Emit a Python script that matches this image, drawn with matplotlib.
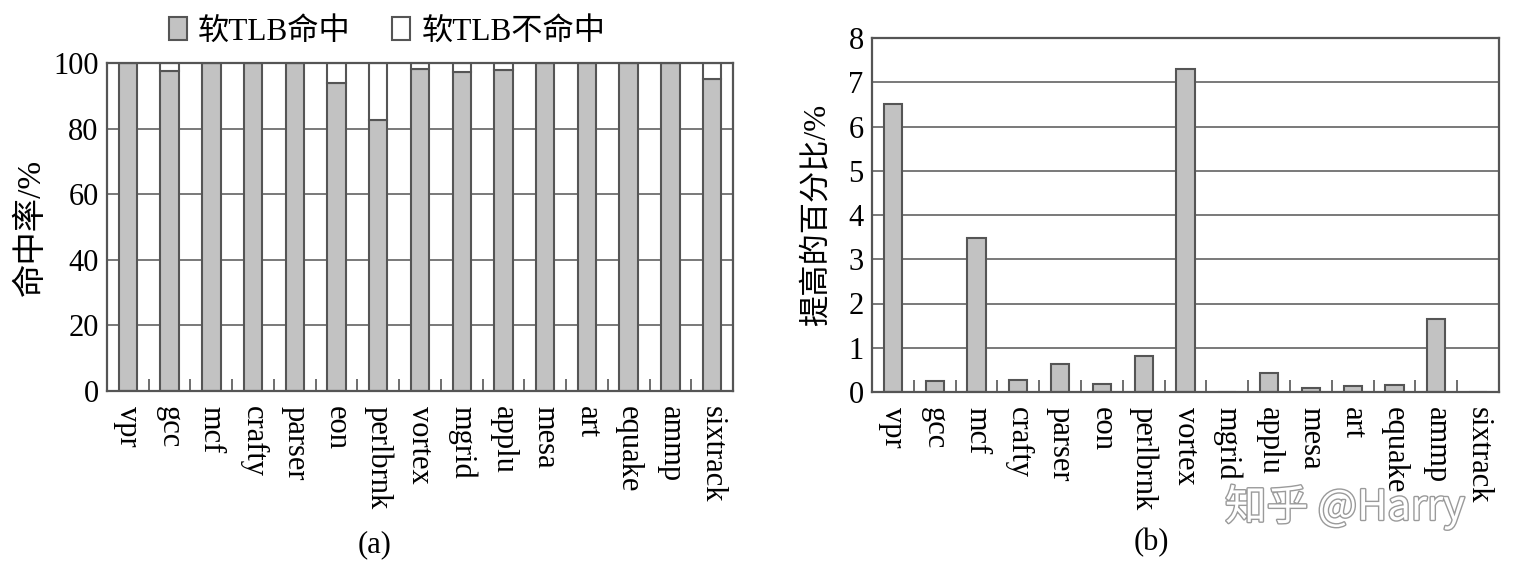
import numpy as np
import matplotlib
matplotlib.use("Agg")
import matplotlib.pyplot as plt
from matplotlib.patches import Patch
import matplotlib.patheffects as pe

plt.rcParams["font.family"] = ["Liberation Serif", "Noto Sans CJK SC"]

benchmarks = ["vpr", "gcc", "mcf", "crafty", "parser", "eon", "perlbrnk", "vortex",
              "mgrid", "applu", "mesa", "art", "equake", "ammp", "sixtrack"]

# (a) soft TLB hit rate, %
hit_rate = [100, 97.5, 100, 100, 100, 94, 82.5, 98.3, 97.3, 98, 100, 100, 100, 100, 95]
miss_rate = [100 - h for h in hit_rate]

# (b) improvement, %
improvement = [6.5, 0.25, 3.47, 0.26, 0.64, 0.17, 0.81, 7.3, 0.0, 0.42, 0.08, 0.13, 0.15, 1.64, 0.0]

bar_fill = "#c2c2c2"
edge = "#555555"
grid_c = "#6e6e6e"
W, H = 1516, 577

fig = plt.figure(figsize=(W / 100, H / 100), dpi=100)
ax_a = fig.add_axes([107 / W, 1 - 391 / H, 626 / W, 328 / H])
ax_b = fig.add_axes([872 / W, 1 - 392 / H, 627 / W, 354 / H])

x = np.arange(len(benchmarks))
width = 0.44


def style_axes(ax, ymax, ystep):
    ax.set_xlim(-0.5, len(benchmarks) - 0.5)
    ax.set_ylim(0, ymax)
    ax.set_yticks(np.arange(0, ymax + ystep / 2, ystep))
    ax.yaxis.grid(True, color=grid_c, linewidth=1.3)
    ax.set_axisbelow(True)
    ax.set_xticks(x)
    ax.set_xticklabels(benchmarks, rotation=270, fontsize=22, va="top", ha="center")
    ax.set_xticks(np.arange(0.5, len(benchmarks) - 1, 1), minor=True)
    ax.tick_params(axis="x", which="major", length=0, pad=11)
    ax.tick_params(axis="x", which="minor", direction="in", length=9, width=1.2, color=edge)
    ax.tick_params(axis="y", length=0, pad=6, labelsize=22)
    for s in ax.spines.values():
        s.set_color(edge)
        s.set_linewidth(1.6)


# panel (a)
ax_a.bar(x, hit_rate, width, color=bar_fill, edgecolor=edge, linewidth=1.5)
ax_a.bar(x, miss_rate, width, bottom=hit_rate, color="white", edgecolor=edge, linewidth=1.5)
style_axes(ax_a, 100, 20)
ax_a.set_ylabel("命中率/%", fontsize=24)
ax_a.yaxis.set_label_coords(-0.096, 0.5)

handles = [Patch(facecolor=bar_fill, edgecolor=edge, linewidth=1.5),
           Patch(facecolor="white", edgecolor=edge, linewidth=1.5)]
fig.legend(handles, ["软TLB命中", "软TLB不命中"], loc="center",
           bbox_to_anchor=(387 / W, 1 - 32 / H), ncol=2, frameon=False, fontsize=22.5,
           handlelength=0.6, handleheight=0.75, handletextpad=0.35, columnspacing=1.3)

# panel (b)
ax_b.bar(x, improvement, width, color=bar_fill, edgecolor=edge, linewidth=1.5)
style_axes(ax_b, 8, 1)
ax_b.set_ylabel("提高的百分比/%", fontsize=22.5)
ax_b.yaxis.set_label_coords(-0.064, 0.5)

fig.text(375 / W, 1 - 545 / H, "(a)", fontsize=22, ha="center", va="center")
fig.text(1151 / W, 1 - 543 / H, "(b)", fontsize=22, ha="center", va="center")

wm = fig.text(1345 / W, 1 - 507 / H, "知乎 @Harry", fontsize=30, ha="center", va="center",
              color="white", family=["Noto Sans CJK SC", "DejaVu Sans"])
wm.set_path_effects([pe.withStroke(linewidth=2, foreground="#9a9a9a")])

fig.savefig("out.png", dpi=100)
